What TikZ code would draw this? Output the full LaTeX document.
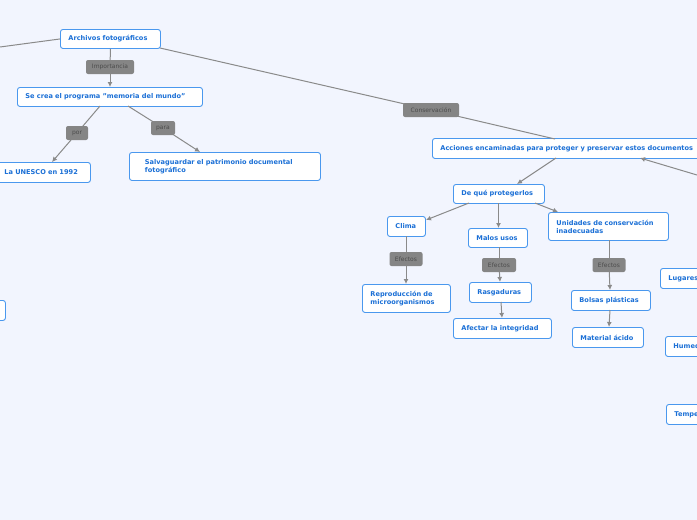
\documentclass[tikz,border=0pt]{standalone}
\usepackage{fontspec}
\setmainfont{DejaVu Sans}
\usetikzlibrary{arrows.meta}
\hyphenpenalty=10000
\exhyphenpenalty=10000
\definecolor{bg}{HTML}{F2F5FE}
\definecolor{bd}{HTML}{4A98EE}
\definecolor{tx}{HTML}{1A6FD6}
\definecolor{lb}{HTML}{858585}
\definecolor{ln}{HTML}{8A8A8A}
\begin{document}
\begin{tikzpicture}[x=1pt,y=-1pt,
 box/.style={draw=bd,line width=0.9pt,fill=white,rounded corners=2.5pt,text=tx,font=\bfseries\fontsize{6.6}{8}\selectfont,inner xsep=8pt,inner ysep=0pt,anchor=north west,align=left},
 lab/.style={fill=lb,rounded corners=2pt,text=black!70,font=\fontsize{6}{7}\selectfont,inner sep=0pt,minimum height=14pt},
 con/.style={draw=ln,line width=1pt},
 arr/.style={con,-{Latex[length=5pt,width=5pt]}}]
\clip (0,0) rectangle (697,520);
\fill[bg] (0,0) rectangle (697,520);
\newcommand\bx[7]{\node[box,minimum width=#4pt,minimum height=#5pt,text width=#6pt] (#1) at (#2,#3) {#7};}
% nodes
\bx{arch}{60}{29}{100}{19}{84}{Archivos fotográficos}
\bx{crea}{17}{87}{185}{19}{169}{Se crea el programa "memoria del mundo"}
\bx{unesco}{-4}{162}{94}{20}{78}{La UNESCO en 1992}
\bx{salv}{129}{152}{191}{28}{160}{Salvaguardar el patrimonio documental fotográfico}
\bx{left}{-40}{300}{45}{20}{29}{}
\bx{acc}{432}{138}{300}{20}{284}{Acciones encaminadas para proteger y preservar estos documentos}
\bx{prot}{453}{184}{91}{19}{75}{De qué protegerlos}
\bx{clima}{387}{216}{38}{20}{22}{Clima}
\bx{malos}{468}{228}{59}{19}{43}{Malos usos}
\bx{unid}{548}{212}{120}{28}{104}{Unidades de conservación inadecuadas}
\bx{repro}{362}{284}{88}{28}{72}{Reproducción de microorganismos}
\bx{rasg}{469}{282}{62}{20}{46}{Rasgaduras}
\bx{afec}{453}{318}{98}{20}{82}{Afectar la integridad}
\bx{bolsas}{571}{290}{79}{20}{63}{Bolsas plásticas}
\bx{mat}{572}{327}{71}{20}{55}{Material ácido}
\bx{lug}{660}{268}{90}{20}{74}{Lugares}
\bx{hum}{665}{336}{90}{20}{74}{Humedad}
\bx{temp}{666}{404}{90}{20}{74}{Temperatura}
\coordinate (offL) at (0,47);
\coordinate (offR) at (697,175);
% connectors
\draw[con] (offL) -- (arch.west);
\draw[con] (arch.south) -- (110,67);
\draw[arr] (110,67) -- (110,87);
\draw[con] (100,106) -- (77,133);
\draw[arr] (77,133) -- (52,162);
\draw[con] (128,106) -- (163,128);
\draw[arr] (163,128) -- (200,152);
\draw[con] (160,48) -- (431,110);
\draw[con] (431,110) -- (555,139);
\draw[arr] (offR) -- (640,158);
\draw[arr] (556,158) -- (517,184);
\draw[arr] (469,203) -- (426,220);
\draw[arr] (498.5,203) -- (498.5,228);
\draw[arr] (535,203) -- (558,212);
\draw[con] (406,236) -- (406,259);
\draw[arr] (406,259) -- (406,284);
\draw[con] (499,247) -- (499,265);
\draw[arr] (499,265) -- (500,282);
\draw[arr] (501,302) -- (502,318);
\draw[con] (609,240) -- (609,265);
\draw[arr] (609,265) -- (610,290);
\draw[arr] (610,310) -- (609,327);
% labels
\node[lab,minimum width=48pt] (limp) at (110,67) {Importancia};
\node[lab,minimum width=22pt] (lpor) at (77,133) {por};
\node[lab,minimum width=24pt] (lpara) at (163,128) {para};
\node[lab,minimum width=56pt] (lcons) at (431,110) {Conservación};
\node[lab,minimum width=33pt] (le1) at (406,259) {Efectos};
\node[lab,minimum width=34pt] (le2) at (499,265) {Efectos};
\node[lab,minimum width=33pt] (le3) at (609,265) {Efectos};
\end{tikzpicture}
\end{document}
